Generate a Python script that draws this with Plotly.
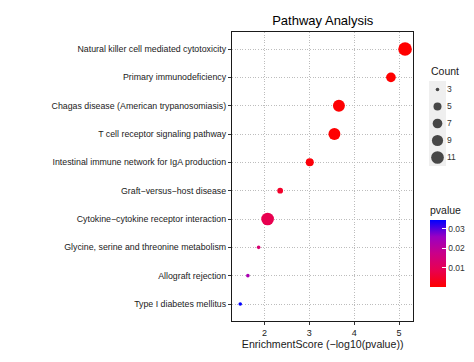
import numpy as np
import plotly.graph_objects as go

# ---------------- data ----------------
pathways = [
    "Natural killer cell mediated cytotoxicity",
    "Primary immunodeficiency",
    "Chagas disease (American trypanosomiasis)",
    "T cell receptor signaling pathway",
    "Intestinal immune network for IgA production",
    "Graft\u2212versus\u2212host disease",
    "Cytokine\u2212cytokine receptor interaction",
    "Glycine, serine and threonine metabolism",
    "Allograft rejection",
    "Type I diabetes mellitus",
]
enrichment_score = [5.135, 4.82, 3.66, 3.56, 3.01, 2.35, 2.07, 1.87, 1.63, 1.46]
pvalue = [7.3e-6, 1.5e-5, 2.2e-4, 2.75e-4, 9.8e-4, 4.5e-3, 8.5e-3, 1.35e-2, 2.34e-2, 3.45e-2]
count = [12, 7, 10, 10, 5, 4, 11, 3, 3, 3]

count_breaks = [3, 5, 7, 9, 11]
pvalue_ticks = [0.01, 0.02, 0.03]
x_ticks = [2, 3, 4, 5]

# ---------------- styling helpers ----------------
FONT = "Liberation Sans, Arial, Helvetica, sans-serif"
W, H = 474, 362
ML, MR, MT, MB = 232, 0, 32, 41
PW = W - ML - MR
PH = H - MT - MB


def px_x(px):
    return (px - ML) / PW


def px_y(py):
    return (H - MB - py) / PH


def diameter(c):
    return float(np.interp(c, [3, 5, 7, 9, 11, 12], [3.6, 8.0, 9.7, 11.2, 12.7, 13.6]))


# ggplot-like red->blue (Lab interpolation approximated)
colorscale = [
    [0.0, "rgb(255,0,0)"],
    [0.25, "rgb(232,0,80)"],
    [0.5, "rgb(202,0,136)"],
    [0.75, "rgb(154,0,194)"],
    [1.0, "rgb(0,0,255)"],
]

span = max(enrichment_score) - min(enrichment_score)
x_range = [min(enrichment_score) - 0.05 * span, max(enrichment_score) + 0.05 * span]
n = len(pathways)

GRID = dict(showgrid=True, gridcolor="#bdbdbd", griddash="1px,1.6px", gridwidth=0.8)
TXT = "#1a1a1a"

fig = go.Figure()

fig.add_trace(go.Scatter(
    x=enrichment_score,
    y=pathways,
    mode="markers",
    marker=dict(
        size=[diameter(c) for c in count],
        color=pvalue,
        colorscale=colorscale,
        cmin=min(pvalue),
        cmax=max(pvalue),
        opacity=1,
        line=dict(width=0),
        colorbar=dict(
            title=dict(text="pvalue", side="top", font=dict(size=10.5, color=TXT, family=FONT)),
            x=px_x(430), xanchor="left", xpad=0,
            y=px_y(245), yanchor="middle", ypad=0,
            len=84, lenmode="pixels",
            thickness=16, outlinewidth=0,
            tickvals=pvalue_ticks,
            ticktext=[f"{v:.2f}" for v in pvalue_ticks],
            ticks="inside", tickcolor="white", ticklen=4, tickwidth=1,
            tickfont=dict(size=8.5, color="#333333", family=FONT),
        ),
    ),
    showlegend=False,
    hoverinfo="x+y",
))

# size legend (Count)
fig.add_trace(go.Scatter(
    x=[0] * len(count_breaks),
    y=[str(b) for b in count_breaks],
    mode="markers",
    marker=dict(size=[diameter(b) for b in count_breaks], color="black", line=dict(width=0)),
    xaxis="x2", yaxis="y2",
    showlegend=False,
    hoverinfo="skip",
))

fig.add_shape(
    type="rect", xref="x2 domain", yref="y2 domain",
    x0=0, x1=1, y0=0, y1=1,
    fillcolor="#EFEFEF", line=dict(width=0), layer="below",
)

fig.add_annotation(
    text="Count", xref="paper", yref="paper",
    x=px_x(429), y=px_y(71), xanchor="left", yanchor="middle",
    showarrow=False, font=dict(size=10.5, color=TXT, family=FONT),
)

fig.update_layout(
    width=W, height=H,
    margin=dict(l=ML, r=MR, t=MT, b=MB),
    paper_bgcolor="white",
    plot_bgcolor="white",
    font=dict(family=FONT, color=TXT),
    title=dict(
        text="Pathway Analysis",
        x=px_x(322.8), xref="paper", xanchor="center",
        y=1 - 20 / H, yref="container", yanchor="middle",
        font=dict(size=13, color="black", family=FONT),
    ),
    xaxis=dict(
        domain=[0, px_x(413.3)],
        range=x_range,
        tickvals=x_ticks,
        ticks="outside", ticklen=3, tickcolor="#333333", tickwidth=1,
        showline=True, mirror=True, linecolor=TXT, linewidth=1.2,
        zeroline=False,
        tickfont=dict(size=9, color=TXT, family=FONT),
        title=dict(text="EnrichmentScore (\u2212log10(pvalue))", standoff=3,
                   font=dict(size=10.6, color=TXT, family=FONT)),
        automargin=False,
        **GRID,
    ),
    yaxis=dict(
        type="category",
        categoryorder="array", categoryarray=pathways,
        range=[n - 1 + 0.6, -0.6],
        ticks="outside", ticklen=3, tickcolor="#333333", tickwidth=1,
        showline=True, mirror=True, linecolor=TXT, linewidth=1.2,
        zeroline=False,
        tickfont=dict(size=8.8, color=TXT, family=FONT),
        automargin=False,
        **GRID,
    ),
    xaxis2=dict(
        domain=[px_x(429), px_x(446)],
        range=[-1, 1], anchor="y2",
        showgrid=False, zeroline=False, showline=False, showticklabels=False, ticks="",
    ),
    yaxis2=dict(
        domain=[px_y(166), px_y(81)],
        type="category",
        categoryorder="array", categoryarray=[str(b) for b in count_breaks],
        range=[len(count_breaks) - 0.5, -0.5],
        anchor="x2", side="right",
        showgrid=False, zeroline=False, showline=False, ticks="",
        tickfont=dict(size=8.5, color="#333333", family=FONT),
    ),
)

fig.write_html(
    "out.html",
    config={"displayModeBar": False},
    post_script="document.body.style.margin='0';",
)
